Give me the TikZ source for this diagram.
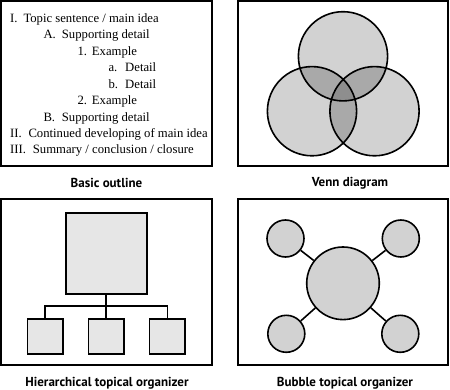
\documentclass[tikz,border=0pt]{standalone}
\usepackage{fontspec}
\setmainfont{Liberation Serif}
\newfontfamily\capfont{PT Sans}
\usetikzlibrary{positioning}

\definecolor{onegray}{HTML}{D2D2D2}
\definecolor{twogray}{HTML}{A9A9A9}
\definecolor{threegray}{HTML}{8E8E8E}
\definecolor{boxgray}{HTML}{E6E6E6}

\begin{document}
\begin{tikzpicture}[x=1pt, y=-1pt,
  every node/.style={inner sep=0pt},
  frame/.style={draw, line width=1.8pt},
  caption/.style={font=\capfont\bfseries\fontsize{13}{15}\selectfont},
  outline/.style={anchor=base west, font=\fontsize{12.7}{15}\selectfont},
  bigbox/.style={draw, line width=1.6pt, fill=boxgray, minimum size=81pt},
  smallbox/.style={draw, line width=1.6pt, fill=boxgray, minimum size=35.5pt},
  link/.style={line width=1.6pt},
  bubble/.style={circle, draw, line width=1.6pt, fill=onegray}]

\useasboundingbox (0,0) rectangle (450,390);

% frames
\draw[frame] (1,1) rectangle (212,166);
\draw[frame] (238,1) rectangle (448,166);
\draw[frame] (1,199) rectangle (212,365);
\draw[frame] (238,199) rectangle (448,365);

% basic outline
\foreach [count=\i] \y/\nx/\num/\tx/\txt in {
    22.3/10/{I.}/23.3/{Topic sentence / main idea},
    38.8/43.3/{A.}/61.7/{Supporting detail},
    55.2/77.3/{1.}/91.7/{Example},
    71.7/108.3/{a.}/125/{Detail},
    88.2/108.3/{b.}/125/{Detail},
    104.6/77.3/{2.}/91.7/{Example},
    121.1/43.3/{B.}/61.7/{Supporting detail},
    137.6/10/{II.}/28.3/{Continued developing of main idea},
    154/10/{III.}/32.7/{Summary / conclusion / closure}} {
  \node[outline] (num\i) at (\nx,\y) {\num};
  \node[outline] (item\i) at (\tx,\y) {\txt};
}

% venn diagram
\coordinate (vt) at (343,56.3);
\coordinate (vl) at (312,111.2);
\coordinate (vr) at (374.5,111.2);
\fill[onegray] (vt) circle (44.6pt) (vl) circle (44.6pt) (vr) circle (44.6pt);
\begin{scope}
  \clip (vt) circle (44.6pt);
  \fill[twogray] (vl) circle (44.6pt) (vr) circle (44.6pt);
\end{scope}
\begin{scope}
  \clip (vl) circle (44.6pt);
  \fill[twogray] (vr) circle (44.6pt);
\end{scope}
\begin{scope}
  \clip (vt) circle (44.6pt);
  \clip (vl) circle (44.6pt);
  \fill[threegray] (vr) circle (44.6pt);
\end{scope}
\draw[link] (vt) circle (44.6pt) (vl) circle (44.6pt) (vr) circle (44.6pt);

% hierarchical organizer
\node[bigbox] (top) at (106.2,253.3) {};
\node[smallbox, below=23.3pt of top] (mid) {};
\node[smallbox, left=24pt of mid] (left) {};
\node[smallbox, right=24pt of mid] (right) {};
\coordinate (bar) at (106.2,305.7);
\draw[link] (top) -- (bar);
\draw[link] (bar) -- (mid);
\draw[link] (left.north) |- (bar) -| (right.north);

% bubble organizer
\node[bubble, minimum size=72.6pt] (hub) at (343,283.3) {};
\node[bubble, minimum size=37pt] (b1) at (285.5,238.5) {};
\node[bubble, minimum size=37pt] (b2) at (400.8,238.5) {};
\node[bubble, minimum size=37pt] (b3) at (286.3,333.8) {};
\node[bubble, minimum size=37pt] (b4) at (400.3,333.8) {};
\draw[link] (hub) -- (b1);
\draw[link] (hub) -- (b2);
\draw[link] (hub) -- (b3);
\draw[link] (hub) -- (b4);

% captions
\node[caption] (cap1) at (106.5,183) {Basic outline};
\node[caption] (cap2) at (350,183) {Venn diagram};
\node[caption] (cap3) at (107,383) {Hierarchical topical organizer};
\node[caption] (cap4) at (345,383) {Bubble topical organizer};
\end{tikzpicture}
\end{document}
